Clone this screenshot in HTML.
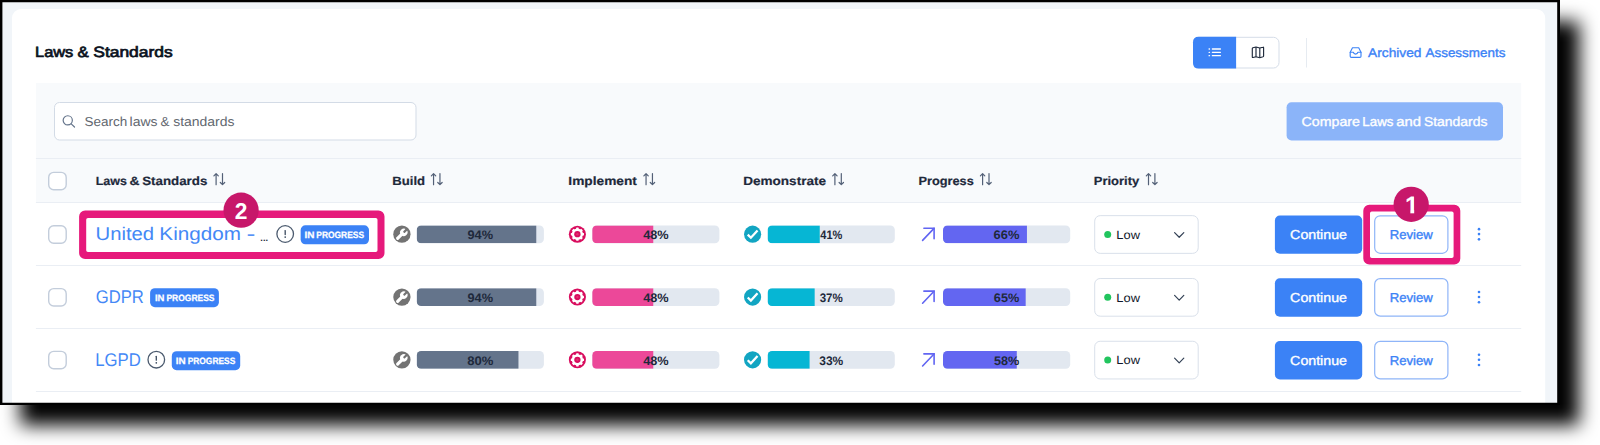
<!DOCTYPE html>
<html lang="en">
<head>
<meta charset="utf-8">
<title>Laws &amp; Standards</title>
<style>
*{box-sizing:border-box;margin:0;padding:0}
html,body{width:1600px;height:445px;overflow:hidden;background:#fff}
body{position:relative}
.shadow{position:absolute;left:0;top:0;width:1560px;height:405px;box-shadow:19.5px 20.5px 17.5px 0 #000;background:#000}
svg.ui{position:absolute;left:0;top:0;display:block;font-family:"Liberation Sans",sans-serif}
svg.ui text{white-space:pre;text-rendering:geometricPrecision}
</style>
</head>
<body>
<div class="shadow"></div>
<svg class="ui" width="1600" height="445" viewBox="0 0 1600 445">
<defs><clipPath id="fr"><rect x="0" y="0" width="1560" height="405"/></clipPath>
<clipPath id="b00"><rect x="416.7" y="225.40" width="127.2" height="17.8" rx="4.5"/></clipPath>
<clipPath id="b01"><rect x="592.2" y="225.40" width="127.2" height="17.8" rx="4.5"/></clipPath>
<clipPath id="b02"><rect x="767.6" y="225.40" width="127.2" height="17.8" rx="4.5"/></clipPath>
<clipPath id="b03"><rect x="943.0" y="225.40" width="127.2" height="17.8" rx="4.5"/></clipPath>
<clipPath id="b10"><rect x="416.7" y="288.25" width="127.2" height="17.8" rx="4.5"/></clipPath>
<clipPath id="b11"><rect x="592.2" y="288.25" width="127.2" height="17.8" rx="4.5"/></clipPath>
<clipPath id="b12"><rect x="767.6" y="288.25" width="127.2" height="17.8" rx="4.5"/></clipPath>
<clipPath id="b13"><rect x="943.0" y="288.25" width="127.2" height="17.8" rx="4.5"/></clipPath>
<clipPath id="b20"><rect x="416.7" y="351.00" width="127.2" height="17.8" rx="4.5"/></clipPath>
<clipPath id="b21"><rect x="592.2" y="351.00" width="127.2" height="17.8" rx="4.5"/></clipPath>
<clipPath id="b22"><rect x="767.6" y="351.00" width="127.2" height="17.8" rx="4.5"/></clipPath>
<clipPath id="b23"><rect x="943.0" y="351.00" width="127.2" height="17.8" rx="4.5"/></clipPath>
</defs>
<g clip-path="url(#fr)">
<rect x="0.00" y="0.00" width="1560.00" height="405.00" fill="#f1f5f9"/>
<rect x="12.00" y="9.00" width="1533.20" height="500.00" rx="9" fill="#fff"/>
<rect x="35.90" y="83.00" width="1485.30" height="119.50" fill="#f8fafc"/>
<rect x="35.90" y="158.00" width="1485.30" height="1.00" fill="#eaeef4"/>
<rect x="35.90" y="202.00" width="1485.30" height="1.00" fill="#eaeef4"/>
<rect x="35.90" y="265.00" width="1485.30" height="1.00" fill="#eaeef4"/>
<rect x="35.90" y="328.00" width="1485.30" height="1.00" fill="#eaeef4"/>
<rect x="35.90" y="391.00" width="1485.30" height="1.00" fill="#eaeef4"/>
<text y="57.40" font-size="14.9" fill="#0b1220" stroke="#0b1220" stroke-width="0.7"><tspan x="35.02" textLength="38.29" lengthAdjust="spacingAndGlyphs">Laws</tspan> <tspan x="77.47" textLength="11.21" lengthAdjust="spacingAndGlyphs">&amp;</tspan> <tspan x="93.26" textLength="79.49" lengthAdjust="spacingAndGlyphs">Standards</tspan></text>
<rect x="1193.50" y="37.30" width="85.50" height="30.70" rx="5.5" fill="#fff" stroke="#d5dde8" stroke-width="1"/>
<path d="M1198.5 36.8 H1236.1 V68.5 H1198.5 Q1193 68.5 1193 63 V42.3 Q1193 36.8 1198.5 36.8 Z" fill="#3b82f6"/>
<g transform="translate(1208 47)" stroke="#fff" stroke-width="1.35" stroke-linecap="round"><path d="M4.4 1.95H12.4M4.4 5.3H12.4M4.4 8.65H12.4"/><path d="M1.1 1.95H1.5M1.1 5.3H1.5M1.1 8.65H1.5"/></g>
<g transform="translate(1251.7 46.4)" fill="none" stroke="#1e293b" stroke-width="1.15" stroke-linejoin="round"><path d="M0.6 2.2 Q0.6 1.6 1.2 1.4 L4.3 0.6 L8.1 1.6 L11.2 0.8 Q11.9 0.6 11.9 1.3 V9.6 Q11.9 10.2 11.3 10.4 L8.1 11.3 L4.3 10.3 L1.3 11.1 Q0.6 11.3 0.6 10.6 Z"/><path d="M4.3 0.6V10.3M8.1 1.6V11.3"/></g>
<rect x="1306.00" y="38.00" width="1.00" height="29.50" fill="#e6ebf1"/>
<g transform="translate(1349.5 46.7)" fill="none" stroke="#3b82f6" stroke-width="1.15" stroke-linejoin="round" stroke-linecap="round"><path d="M0.7 5.5 L3 1 H9.2 L11.5 5.5 V9.5 Q11.5 10.7 10.3 10.7 H1.9 Q0.7 10.7 0.7 9.5 Z"/><path d="M0.7 5.5 H3.8 Q4.2 7.4 6.1 7.4 Q8 7.4 8.4 5.5 H11.5"/></g>
<text y="56.80" font-size="12.6" fill="#3b82f6" stroke="#3b82f6" stroke-width="0.35"><tspan x="1368.10" textLength="53.38" lengthAdjust="spacingAndGlyphs">Archived</tspan> <tspan x="1425.50" textLength="79.88" lengthAdjust="spacingAndGlyphs">Assessments</tspan></text>
<rect x="54.50" y="102.50" width="361.50" height="37.50" rx="5" fill="#fff" stroke="#d3dbe6" stroke-width="1"/>
<g transform="translate(62 115)" fill="none" stroke="#64748b" stroke-width="1.2" stroke-linecap="round"><circle cx="5.75" cy="5.35" r="4.6"/><path d="M9.2 8.9 L12.5 12"/></g>
<text y="125.70" font-size="13" fill="#62676f"><tspan x="84.58" textLength="42.68" lengthAdjust="spacingAndGlyphs">Search</tspan> <tspan x="129.63" textLength="27.91" lengthAdjust="spacingAndGlyphs">laws</tspan> <tspan x="160.48" textLength="8.91" lengthAdjust="spacingAndGlyphs">&amp;</tspan> <tspan x="173.18" textLength="61.25" lengthAdjust="spacingAndGlyphs">standards</tspan></text>
<rect x="1286.60" y="102.20" width="216.40" height="38.20" rx="5" fill="#8bb4f9"/>
<text y="125.70" font-size="13" fill="#fff" stroke="#fff" stroke-width="0.35"><tspan x="1301.53" textLength="58.44" lengthAdjust="spacingAndGlyphs">Compare</tspan> <tspan x="1362.36" textLength="31.05" lengthAdjust="spacingAndGlyphs">Laws</tspan> <tspan x="1396.28" textLength="24.85" lengthAdjust="spacingAndGlyphs">and</tspan> <tspan x="1423.96" textLength="63.47" lengthAdjust="spacingAndGlyphs">Standards</tspan></text>
<rect x="48.70" y="172.40" width="17.50" height="17.40" rx="5" fill="#fff" stroke="#c3cddb" stroke-width="1.4"/>
<text y="184.80" font-size="12" fill="#1e293b" font-weight="bold" stroke="#1e293b" stroke-width="0.2"><tspan x="95.66" textLength="31.33" lengthAdjust="spacingAndGlyphs">Laws</tspan> <tspan x="129.42" textLength="10.00" lengthAdjust="spacingAndGlyphs">&amp;</tspan> <tspan x="142.17" textLength="65.16" lengthAdjust="spacingAndGlyphs">Standards</tspan></text>
<g transform="translate(213.20 172.9)" fill="none" stroke="#536077" stroke-width="1.2" stroke-linecap="round" stroke-linejoin="round"><path d="M2.9 11.8V1M0.7 2.9 L2.9 0.7 L5.1 2.9"/><path d="M9.3 0.7V11.5M7.1 9.6 L9.3 11.8 L11.5 9.6"/></g>
<text x="392.38" y="184.80" font-size="12" fill="#1e293b" textLength="32.72" lengthAdjust="spacingAndGlyphs" font-weight="bold" stroke="#1e293b" stroke-width="0.2">Build</text>
<g transform="translate(430.65 172.9)" fill="none" stroke="#536077" stroke-width="1.2" stroke-linecap="round" stroke-linejoin="round"><path d="M2.9 11.8V1M0.7 2.9 L2.9 0.7 L5.1 2.9"/><path d="M9.3 0.7V11.5M7.1 9.6 L9.3 11.8 L11.5 9.6"/></g>
<text x="568.34" y="184.80" font-size="12" fill="#1e293b" textLength="68.58" lengthAdjust="spacingAndGlyphs" font-weight="bold" stroke="#1e293b" stroke-width="0.2">Implement</text>
<g transform="translate(643.15 172.9)" fill="none" stroke="#536077" stroke-width="1.2" stroke-linecap="round" stroke-linejoin="round"><path d="M2.9 11.8V1M0.7 2.9 L2.9 0.7 L5.1 2.9"/><path d="M9.3 0.7V11.5M7.1 9.6 L9.3 11.8 L11.5 9.6"/></g>
<text x="743.20" y="184.80" font-size="12" fill="#1e293b" textLength="82.83" lengthAdjust="spacingAndGlyphs" font-weight="bold" stroke="#1e293b" stroke-width="0.2">Demonstrate</text>
<g transform="translate(832.00 172.9)" fill="none" stroke="#536077" stroke-width="1.2" stroke-linecap="round" stroke-linejoin="round"><path d="M2.9 11.8V1M0.7 2.9 L2.9 0.7 L5.1 2.9"/><path d="M9.3 0.7V11.5M7.1 9.6 L9.3 11.8 L11.5 9.6"/></g>
<text x="918.45" y="184.80" font-size="12" fill="#1e293b" textLength="55.36" lengthAdjust="spacingAndGlyphs" font-weight="bold" stroke="#1e293b" stroke-width="0.2">Progress</text>
<g transform="translate(979.70 172.9)" fill="none" stroke="#536077" stroke-width="1.2" stroke-linecap="round" stroke-linejoin="round"><path d="M2.9 11.8V1M0.7 2.9 L2.9 0.7 L5.1 2.9"/><path d="M9.3 0.7V11.5M7.1 9.6 L9.3 11.8 L11.5 9.6"/></g>
<text x="1093.84" y="184.80" font-size="12" fill="#1e293b" textLength="45.39" lengthAdjust="spacingAndGlyphs" font-weight="bold" stroke="#1e293b" stroke-width="0.2">Priority</text>
<g transform="translate(1145.60 172.9)" fill="none" stroke="#536077" stroke-width="1.2" stroke-linecap="round" stroke-linejoin="round"><path d="M2.9 11.8V1M0.7 2.9 L2.9 0.7 L5.1 2.9"/><path d="M9.3 0.7V11.5M7.1 9.6 L9.3 11.8 L11.5 9.6"/></g>
<rect x="48.70" y="225.80" width="17.50" height="17.40" rx="5" fill="#fff" stroke="#c3cddb" stroke-width="1.4"/>
<rect x="416.70" y="225.40" width="127.20" height="17.80" rx="4.5" fill="#e2e8f0"/>
<rect x="416.70" y="225.40" width="119.57" height="17.80" fill="#64748b" clip-path="url(#b00)"/>
<g transform="translate(401.90 234.20) scale(0.72)"><circle r="12" fill="#737373"/><g transform="rotate(45)" fill="#fff"><circle cy="-3.7" r="5.1"/><path d="M-2.2 -2 V8.4 Q-2.2 10.5 0 10.5 Q2.2 10.5 2.2 8.4 V-2 Z"/><path d="M-1.6 -10 H1.6 V-4.4 Q1.6 -3.4 0 -3.4 Q-1.6 -3.4 -1.6 -4.4 Z" fill="#737373"/></g></g>
<text x="467.49" y="239.25" font-size="12.4" fill="#1e293b" textLength="25.55" lengthAdjust="spacingAndGlyphs" font-weight="bold">94%</text>
<rect x="592.20" y="225.40" width="127.20" height="17.80" rx="4.5" fill="#e2e8f0"/>
<rect x="592.20" y="225.40" width="61.06" height="17.80" fill="#ec4899" clip-path="url(#b01)"/>
<g transform="translate(577.40 234.20) scale(0.855)"><circle r="10" fill="#d80d5e"/><circle r="6.6" fill="#fff"/><rect x="-1.5" y="-7.7" width="3" height="2.5" rx="0.5" transform="rotate(0)" fill="#fff"/><rect x="-1.5" y="-7.7" width="3" height="2.5" rx="0.5" transform="rotate(45)" fill="#fff"/><rect x="-1.5" y="-7.7" width="3" height="2.5" rx="0.5" transform="rotate(90)" fill="#fff"/><rect x="-1.5" y="-7.7" width="3" height="2.5" rx="0.5" transform="rotate(135)" fill="#fff"/><rect x="-1.5" y="-7.7" width="3" height="2.5" rx="0.5" transform="rotate(180)" fill="#fff"/><rect x="-1.5" y="-7.7" width="3" height="2.5" rx="0.5" transform="rotate(225)" fill="#fff"/><rect x="-1.5" y="-7.7" width="3" height="2.5" rx="0.5" transform="rotate(270)" fill="#fff"/><rect x="-1.5" y="-7.7" width="3" height="2.5" rx="0.5" transform="rotate(315)" fill="#fff"/><circle r="3.7" fill="#d80d5e"/><circle r="1.4" fill="#e2336f"/></g>
<text x="643.15" y="239.25" font-size="12.4" fill="#1e293b" textLength="25.49" lengthAdjust="spacingAndGlyphs" font-weight="bold">48%</text>
<rect x="767.60" y="225.40" width="127.20" height="17.80" rx="4.5" fill="#e2e8f0"/>
<rect x="767.60" y="225.40" width="52.15" height="17.80" fill="#06b6d4" clip-path="url(#b02)"/>
<g transform="translate(752.60 234.20) scale(0.715)"><circle r="12" fill="#12a5c2"/><path d="M-6.8 0.6 L-2.4 4.9 L6.9 -5.3" fill="none" stroke="#fff" stroke-width="3.2"/></g>
<text x="820.27" y="239.25" font-size="12.4" fill="#1e293b" textLength="22.02" lengthAdjust="spacingAndGlyphs" font-weight="bold">41%</text>
<rect x="943.00" y="225.40" width="127.20" height="17.80" rx="4.5" fill="#e2e8f0"/>
<rect x="943.00" y="225.40" width="83.95" height="17.80" fill="#6366f1" clip-path="url(#b03)"/>
<g transform="translate(921.10 227.20)" fill="none" stroke="#6165f2" stroke-width="1.6" stroke-linecap="round"><path d="M1.5 13.2 L12.9 1.2"/><path d="M2.8 1.1 H13 V11.5"/></g>
<text x="993.63" y="239.25" font-size="12.4" fill="#1e293b" textLength="25.81" lengthAdjust="spacingAndGlyphs" font-weight="bold">66%</text>
<rect x="1094.70" y="215.65" width="103.50" height="37.70" rx="5.5" fill="#fff" stroke="#d9e0ea" stroke-width="1"/>
<circle cx="1107.7" cy="234.40" r="3.5" fill="#22c55e"/>
<path d="M1174.6 232.60 L1179.2 237.25 L1183.8 232.60" fill="none" stroke="#334155" stroke-width="1.2" stroke-linecap="round" stroke-linejoin="round"/>
<text x="1116.38" y="238.70" font-size="12" fill="#0f172a" textLength="23.58" lengthAdjust="spacingAndGlyphs">Low</text>
<rect x="1274.90" y="215.50" width="87.30" height="38.30" rx="5" fill="#3b82f6"/>
<text x="1290.13" y="239.00" font-size="13" fill="#fff" textLength="56.84" lengthAdjust="spacingAndGlyphs" stroke="#fff" stroke-width="0.35">Continue</text>
<rect x="1374.70" y="215.80" width="73.20" height="37.50" rx="5.5" fill="#fff" stroke="#8fb5f8" stroke-width="1.2"/>
<text x="1389.68" y="239.00" font-size="13" fill="#3b82f6" textLength="42.96" lengthAdjust="spacingAndGlyphs" stroke="#3b82f6" stroke-width="0.35">Review</text>
<circle cx="1479" cy="229.15" r="1.3" fill="#3b82f6"/>
<circle cx="1479" cy="234.10" r="1.3" fill="#3b82f6"/>
<circle cx="1479" cy="239.35" r="1.3" fill="#3b82f6"/>
<rect x="48.70" y="288.65" width="17.50" height="17.40" rx="5" fill="#fff" stroke="#c3cddb" stroke-width="1.4"/>
<rect x="416.70" y="288.25" width="127.20" height="17.80" rx="4.5" fill="#e2e8f0"/>
<rect x="416.70" y="288.25" width="119.57" height="17.80" fill="#64748b" clip-path="url(#b10)"/>
<g transform="translate(401.90 297.05) scale(0.72)"><circle r="12" fill="#737373"/><g transform="rotate(45)" fill="#fff"><circle cy="-3.7" r="5.1"/><path d="M-2.2 -2 V8.4 Q-2.2 10.5 0 10.5 Q2.2 10.5 2.2 8.4 V-2 Z"/><path d="M-1.6 -10 H1.6 V-4.4 Q1.6 -3.4 0 -3.4 Q-1.6 -3.4 -1.6 -4.4 Z" fill="#737373"/></g></g>
<text x="467.49" y="302.10" font-size="12.4" fill="#1e293b" textLength="25.55" lengthAdjust="spacingAndGlyphs" font-weight="bold">94%</text>
<rect x="592.20" y="288.25" width="127.20" height="17.80" rx="4.5" fill="#e2e8f0"/>
<rect x="592.20" y="288.25" width="61.06" height="17.80" fill="#ec4899" clip-path="url(#b11)"/>
<g transform="translate(577.40 297.05) scale(0.855)"><circle r="10" fill="#d80d5e"/><circle r="6.6" fill="#fff"/><rect x="-1.5" y="-7.7" width="3" height="2.5" rx="0.5" transform="rotate(0)" fill="#fff"/><rect x="-1.5" y="-7.7" width="3" height="2.5" rx="0.5" transform="rotate(45)" fill="#fff"/><rect x="-1.5" y="-7.7" width="3" height="2.5" rx="0.5" transform="rotate(90)" fill="#fff"/><rect x="-1.5" y="-7.7" width="3" height="2.5" rx="0.5" transform="rotate(135)" fill="#fff"/><rect x="-1.5" y="-7.7" width="3" height="2.5" rx="0.5" transform="rotate(180)" fill="#fff"/><rect x="-1.5" y="-7.7" width="3" height="2.5" rx="0.5" transform="rotate(225)" fill="#fff"/><rect x="-1.5" y="-7.7" width="3" height="2.5" rx="0.5" transform="rotate(270)" fill="#fff"/><rect x="-1.5" y="-7.7" width="3" height="2.5" rx="0.5" transform="rotate(315)" fill="#fff"/><circle r="3.7" fill="#d80d5e"/><circle r="1.4" fill="#e2336f"/></g>
<text x="643.15" y="302.10" font-size="12.4" fill="#1e293b" textLength="25.49" lengthAdjust="spacingAndGlyphs" font-weight="bold">48%</text>
<rect x="767.60" y="288.25" width="127.20" height="17.80" rx="4.5" fill="#e2e8f0"/>
<rect x="767.60" y="288.25" width="47.06" height="17.80" fill="#06b6d4" clip-path="url(#b12)"/>
<g transform="translate(752.60 297.05) scale(0.715)"><circle r="12" fill="#12a5c2"/><path d="M-6.8 0.6 L-2.4 4.9 L6.9 -5.3" fill="none" stroke="#fff" stroke-width="3.2"/></g>
<text x="819.67" y="302.10" font-size="12.4" fill="#1e293b" textLength="23.14" lengthAdjust="spacingAndGlyphs" font-weight="bold">37%</text>
<rect x="943.00" y="288.25" width="127.20" height="17.80" rx="4.5" fill="#e2e8f0"/>
<rect x="943.00" y="288.25" width="82.68" height="17.80" fill="#6366f1" clip-path="url(#b13)"/>
<g transform="translate(921.10 290.05)" fill="none" stroke="#6165f2" stroke-width="1.6" stroke-linecap="round"><path d="M1.5 13.2 L12.9 1.2"/><path d="M2.8 1.1 H13 V11.5"/></g>
<text x="993.84" y="302.10" font-size="12.4" fill="#1e293b" textLength="25.39" lengthAdjust="spacingAndGlyphs" font-weight="bold">65%</text>
<rect x="1094.70" y="278.50" width="103.50" height="37.70" rx="5.5" fill="#fff" stroke="#d9e0ea" stroke-width="1"/>
<circle cx="1107.7" cy="297.25" r="3.5" fill="#22c55e"/>
<path d="M1174.6 295.45 L1179.2 300.10 L1183.8 295.45" fill="none" stroke="#334155" stroke-width="1.2" stroke-linecap="round" stroke-linejoin="round"/>
<text x="1116.38" y="301.55" font-size="12" fill="#0f172a" textLength="23.58" lengthAdjust="spacingAndGlyphs">Low</text>
<rect x="1274.90" y="278.35" width="87.30" height="38.30" rx="5" fill="#3b82f6"/>
<text x="1290.13" y="301.85" font-size="13" fill="#fff" textLength="56.84" lengthAdjust="spacingAndGlyphs" stroke="#fff" stroke-width="0.35">Continue</text>
<rect x="1374.70" y="278.65" width="73.20" height="37.50" rx="5.5" fill="#fff" stroke="#8fb5f8" stroke-width="1.2"/>
<text x="1389.68" y="301.85" font-size="13" fill="#3b82f6" textLength="42.96" lengthAdjust="spacingAndGlyphs" stroke="#3b82f6" stroke-width="0.35">Review</text>
<circle cx="1479" cy="292.00" r="1.3" fill="#3b82f6"/>
<circle cx="1479" cy="296.95" r="1.3" fill="#3b82f6"/>
<circle cx="1479" cy="302.20" r="1.3" fill="#3b82f6"/>
<rect x="48.70" y="351.40" width="17.50" height="17.40" rx="5" fill="#fff" stroke="#c3cddb" stroke-width="1.4"/>
<rect x="416.70" y="351.00" width="127.20" height="17.80" rx="4.5" fill="#e2e8f0"/>
<rect x="416.70" y="351.00" width="101.76" height="17.80" fill="#64748b" clip-path="url(#b20)"/>
<g transform="translate(401.90 359.80) scale(0.72)"><circle r="12" fill="#737373"/><g transform="rotate(45)" fill="#fff"><circle cy="-3.7" r="5.1"/><path d="M-2.2 -2 V8.4 Q-2.2 10.5 0 10.5 Q2.2 10.5 2.2 8.4 V-2 Z"/><path d="M-1.6 -10 H1.6 V-4.4 Q1.6 -3.4 0 -3.4 Q-1.6 -3.4 -1.6 -4.4 Z" fill="#737373"/></g></g>
<text x="467.23" y="364.85" font-size="12.4" fill="#1e293b" textLength="26.11" lengthAdjust="spacingAndGlyphs" font-weight="bold">80%</text>
<rect x="592.20" y="351.00" width="127.20" height="17.80" rx="4.5" fill="#e2e8f0"/>
<rect x="592.20" y="351.00" width="61.06" height="17.80" fill="#ec4899" clip-path="url(#b21)"/>
<g transform="translate(577.40 359.80) scale(0.855)"><circle r="10" fill="#d80d5e"/><circle r="6.6" fill="#fff"/><rect x="-1.5" y="-7.7" width="3" height="2.5" rx="0.5" transform="rotate(0)" fill="#fff"/><rect x="-1.5" y="-7.7" width="3" height="2.5" rx="0.5" transform="rotate(45)" fill="#fff"/><rect x="-1.5" y="-7.7" width="3" height="2.5" rx="0.5" transform="rotate(90)" fill="#fff"/><rect x="-1.5" y="-7.7" width="3" height="2.5" rx="0.5" transform="rotate(135)" fill="#fff"/><rect x="-1.5" y="-7.7" width="3" height="2.5" rx="0.5" transform="rotate(180)" fill="#fff"/><rect x="-1.5" y="-7.7" width="3" height="2.5" rx="0.5" transform="rotate(225)" fill="#fff"/><rect x="-1.5" y="-7.7" width="3" height="2.5" rx="0.5" transform="rotate(270)" fill="#fff"/><rect x="-1.5" y="-7.7" width="3" height="2.5" rx="0.5" transform="rotate(315)" fill="#fff"/><circle r="3.7" fill="#d80d5e"/><circle r="1.4" fill="#e2336f"/></g>
<text x="643.15" y="364.85" font-size="12.4" fill="#1e293b" textLength="25.49" lengthAdjust="spacingAndGlyphs" font-weight="bold">48%</text>
<rect x="767.60" y="351.00" width="127.20" height="17.80" rx="4.5" fill="#e2e8f0"/>
<rect x="767.60" y="351.00" width="41.98" height="17.80" fill="#06b6d4" clip-path="url(#b22)"/>
<g transform="translate(752.60 359.80) scale(0.715)"><circle r="12" fill="#12a5c2"/><path d="M-6.8 0.6 L-2.4 4.9 L6.9 -5.3" fill="none" stroke="#fff" stroke-width="3.2"/></g>
<text x="819.26" y="364.85" font-size="12.4" fill="#1e293b" textLength="23.96" lengthAdjust="spacingAndGlyphs" font-weight="bold">33%</text>
<rect x="943.00" y="351.00" width="127.20" height="17.80" rx="4.5" fill="#e2e8f0"/>
<rect x="943.00" y="351.00" width="73.78" height="17.80" fill="#6366f1" clip-path="url(#b23)"/>
<g transform="translate(921.10 352.80)" fill="none" stroke="#6165f2" stroke-width="1.6" stroke-linecap="round"><path d="M1.5 13.2 L12.9 1.2"/><path d="M2.8 1.1 H13 V11.5"/></g>
<text x="993.94" y="364.85" font-size="12.4" fill="#1e293b" textLength="25.29" lengthAdjust="spacingAndGlyphs" font-weight="bold">58%</text>
<rect x="1094.70" y="341.25" width="103.50" height="37.70" rx="5.5" fill="#fff" stroke="#d9e0ea" stroke-width="1"/>
<circle cx="1107.7" cy="360.00" r="3.5" fill="#22c55e"/>
<path d="M1174.6 358.20 L1179.2 362.85 L1183.8 358.20" fill="none" stroke="#334155" stroke-width="1.2" stroke-linecap="round" stroke-linejoin="round"/>
<text x="1116.38" y="364.30" font-size="12" fill="#0f172a" textLength="23.58" lengthAdjust="spacingAndGlyphs">Low</text>
<rect x="1274.90" y="341.10" width="87.30" height="38.30" rx="5" fill="#3b82f6"/>
<text x="1290.13" y="364.60" font-size="13" fill="#fff" textLength="56.84" lengthAdjust="spacingAndGlyphs" stroke="#fff" stroke-width="0.35">Continue</text>
<rect x="1374.70" y="341.40" width="73.20" height="37.50" rx="5.5" fill="#fff" stroke="#8fb5f8" stroke-width="1.2"/>
<text x="1389.68" y="364.60" font-size="13" fill="#3b82f6" textLength="42.96" lengthAdjust="spacingAndGlyphs" stroke="#3b82f6" stroke-width="0.35">Review</text>
<circle cx="1479" cy="354.75" r="1.3" fill="#3b82f6"/>
<circle cx="1479" cy="359.70" r="1.3" fill="#3b82f6"/>
<circle cx="1479" cy="364.95" r="1.3" fill="#3b82f6"/>
<text y="240.00" font-size="18.4" fill="#4488f6"><tspan x="95.53" textLength="58.61" lengthAdjust="spacingAndGlyphs">United</tspan> <tspan x="159.39" textLength="81.58" lengthAdjust="spacingAndGlyphs">Kingdom</tspan> <tspan x="246.46" dy="-0.5" textLength="8.90" lengthAdjust="spacingAndGlyphs">-</tspan></text>
<text x="260.38" y="240.50" font-size="9" fill="#1e293b" textLength="7.74" lengthAdjust="spacingAndGlyphs" font-weight="bold">...</text>
<text x="95.82" y="302.85" font-size="18.4" fill="#4488f6" textLength="48.06" lengthAdjust="spacingAndGlyphs">GDPR</text>
<text x="95.29" y="365.60" font-size="18.4" fill="#4488f6" textLength="45.59" lengthAdjust="spacingAndGlyphs">LGPD</text>
<rect x="300.65" y="225.30" width="68.35" height="19.00" rx="4.8" fill="#3b82f6"/>
<text y="237.50" font-size="9.2" fill="#fff" font-weight="bold" stroke="#fff" stroke-width="0.25"><tspan x="304.55" textLength="10.00" lengthAdjust="spacingAndGlyphs">IN</tspan> <tspan x="316.25" textLength="47.86" lengthAdjust="spacingAndGlyphs">PROGRESS</tspan></text>
<rect x="150.10" y="288.15" width="68.80" height="19.00" rx="4.8" fill="#3b82f6"/>
<text y="300.90" font-size="9.2" fill="#fff" font-weight="bold" stroke="#fff" stroke-width="0.25"><tspan x="154.98" textLength="9.54" lengthAdjust="spacingAndGlyphs">IN</tspan> <tspan x="166.45" textLength="48.06" lengthAdjust="spacingAndGlyphs">PROGRESS</tspan></text>
<rect x="171.80" y="351.20" width="68.40" height="19.00" rx="4.8" fill="#3b82f6"/>
<text y="363.85" font-size="9.2" fill="#fff" font-weight="bold" stroke="#fff" stroke-width="0.25"><tspan x="175.86" textLength="9.88" lengthAdjust="spacingAndGlyphs">IN</tspan> <tspan x="187.65" textLength="47.66" lengthAdjust="spacingAndGlyphs">PROGRESS</tspan></text>
<g transform="translate(276.20 225.00)"><circle cx="9" cy="9" r="8.3" fill="#fff" stroke="#4b5a6e" stroke-width="1.3"/><path d="M9 5.6V9.5" stroke="#3b4a5e" stroke-width="1.3" stroke-linecap="round"/><circle cx="9" cy="12.1" r="0.85" fill="#3b4a5e"/></g>
<g transform="translate(147.30 350.70)"><circle cx="9" cy="9" r="8.3" fill="#fff" stroke="#4b5a6e" stroke-width="1.3"/><path d="M9 5.6V9.5" stroke="#3b4a5e" stroke-width="1.3" stroke-linecap="round"/><circle cx="9" cy="12.1" r="0.85" fill="#3b4a5e"/></g>
<path fill="#e6197b" fill-rule="evenodd" d="M85.10 210.40H378.50A6 6 0 0 1 384.50 216.40V253.00A6 6 0 0 1 378.50 259.00H85.10A6 6 0 0 1 79.10 253.00V216.40A6 6 0 0 1 85.10 210.40Z M88.00 218.00H375.70A1.8 1.8 0 0 1 377.50 219.80V250.20A1.8 1.8 0 0 1 375.70 252.00H88.00A1.8 1.8 0 0 1 86.20 250.20V219.80A1.8 1.8 0 0 1 88.00 218.00Z"/>
<path fill="#e6197b" fill-rule="evenodd" d="M1369.30 204.80H1454.30A6 6 0 0 1 1460.30 210.80V258.60A6 6 0 0 1 1454.30 264.60H1369.30A6 6 0 0 1 1363.30 258.60V210.80A6 6 0 0 1 1369.30 204.80Z M1371.80 211.40H1451.80A1.8 1.8 0 0 1 1453.60 213.20V256.20A1.8 1.8 0 0 1 1451.80 258.00H1371.80A1.8 1.8 0 0 1 1370.00 256.20V213.20A1.8 1.8 0 0 1 1371.80 211.40Z"/>
<circle cx="241.1" cy="210.2" r="17.6" fill="#c7176a"/>
<circle cx="1411.2" cy="204.3" r="17.6" fill="#c7176a"/>
<text x="241.1" y="219.3" font-size="22.8" font-weight="bold" fill="#fff" text-anchor="middle">2</text>
<clipPath id="one"><path d="M1404.20 193.20 H1414.21 V214.20 H1410.35 V209.90 H1404.20 Z"/></clipPath>
<text x="1405.2" y="213.2" font-size="23.6" font-weight="bold" fill="#fff" stroke="#fff" stroke-width="0.25" clip-path="url(#one)">1</text>
</g>
<path fill-rule="evenodd" fill="#000" d="M0 0H1560V405H0Z M2.4 2.3H1557.2V402.7H2.4Z"/>
</svg>
</body>
</html>
